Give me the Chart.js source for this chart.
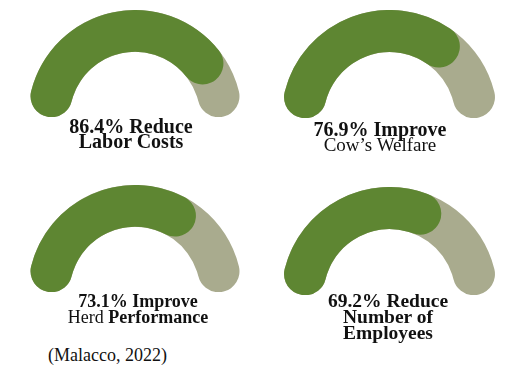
<!DOCTYPE html>
<html>
<head>
<meta charset="utf-8">
<script src="https://cdn.jsdelivr.net/npm/chart.js@4"></script>
<style>
  body { margin: 0; background: #fff; }
  #wrap { position: relative; width: 522px; height: 374px; overflow: hidden; font-family: "Liberation Serif", "Times New Roman", serif; color: #111; }
  canvas { position: absolute; }
  .lbl { position: absolute; text-align: center; white-space: nowrap; font-weight: bold; }
  .lbl .n { font-weight: normal; }
  #src { position: absolute; left: 48px; top: 345px; font-size: 18px; line-height: 20px; }
</style>
</head>
<body>
<div id="wrap">
  <div id="src">(Malacco, 2022)</div>
</div>
<script>
// values
const categories = ["Reduce Labor Costs", "Improve Cow's Welfare", "Improve Herd Performance", "Reduce Number of Employees"];
const percents = [86.4, 76.9, 73.1, 69.2];
const labelLines = [
    ["86.4% Reduce", "Labor Costs"],
    ["76.9% Improve", "Cow\u2019s  Welfare"],
    ["73.1% Improve", "Herd Performance"],
    ["69.2% Reduce", "Number of", "Employees"]
];

const green = "#5e8632";
const grey = "#a9ab8e";

// where each gauge sits in the picture
const boxes = [
    { left: 28, top: 10, w: 214, h: 107 },
    { left: 281, top: 10, w: 217, h: 108 },
    { left: 28, top: 185, w: 214, h: 107 },
    { left: 281, top: 187, w: 217, h: 108 }
];
const labelBoxes = [
    { cx: 131, top: 119, size: 20, lh: 15 },
    { cx: 380, top: 122, size: 20, lh: 15 },
    { cx: 138, top: 293, size: 18, lh: 16 },
    { cx: 388, top: 292.5, size: 19.5, lh: 16 }
];

const wrap = document.getElementById("wrap");

function makeCanvas(b) {
    const c = document.createElement("canvas");
    c.width = b.w;
    c.height = b.h;
    c.style.left = b.left + "px";
    c.style.top = b.top + "px";
    wrap.appendChild(c);
    return c;
}

function gauge(canvas, data, colors) {
    return new Chart(canvas.getContext("2d"), {
        type: "doughnut",
        data: {
            labels: data.map(function(v, i) { return i === 0 ? "value" : "rest"; }),
            datasets: [{
                data: data,
                backgroundColor: colors,
                borderWidth: 0,
                borderRadius: 100
            }]
        },
        options: {
            responsive: false,
            animation: false,
            rotation: -90,
            circumference: 180,
            cutout: "61%",
            layout: { padding: 0 },
            plugins: {
                legend: { display: false },
                tooltip: { enabled: false }
            }
        }
    });
}

percents.forEach(function(p, i) {
    const b = boxes[i];
    // grey track underneath, green share on top
    gauge(makeCanvas(b), [100], [grey]);
    gauge(makeCanvas(b), [p, 100 - p], [green, "rgba(0,0,0,0)"]);

    const lb = labelBoxes[i];
    const d = document.createElement("div");
    d.className = "lbl";
    d.style.left = (lb.cx - 100) + "px";
    d.style.width = "200px";
    d.style.top = lb.top + "px";
    d.style.fontSize = lb.size + "px";
    d.style.lineHeight = lb.lh + "px";
    d.innerHTML = labelLines[i].map(function(line, j) {
        if (i === 1 && j === 1) return '<span class="n" style="font-size:19px">' + line + "</span>";
        if (i === 2 && j === 1) return '<span class="n">Herd</span> Performance';
        return line;
    }).join("<br>");
    wrap.appendChild(d);
});
</script>
</body>
</html>
